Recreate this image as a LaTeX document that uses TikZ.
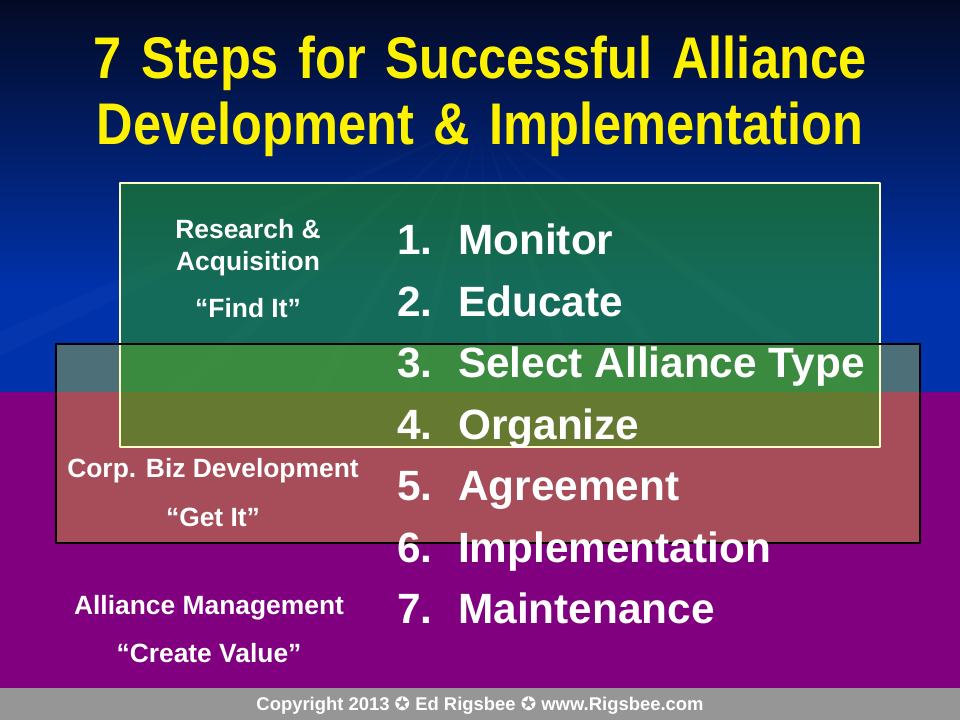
\documentclass[tikz,border=0pt]{standalone}
\usepackage{fontspec}
\setmainfont{Liberation Sans}
\newfontfamily\titlefont[FakeStretch=0.86,WordSpace=1.4]{Liberation Sans}
\newfontfamily\symfont{DejaVu Sans}
\usetikzlibrary{positioning}

\definecolor{bgtop}{RGB}{3,10,36}
\definecolor{bgblue}{RGB}{0,50,172}
\definecolor{bgpurple}{RGB}{128,0,128}
\definecolor{bggray}{RGB}{150,150,150}
\definecolor{boxyellow}{RGB}{255,255,0}
\definecolor{boxgreen}{RGB}{40,165,10}
\definecolor{greenedge}{RGB}{255,255,200}

\begin{document}
\begin{tikzpicture}[line join=bevel,
  every node/.style={inner sep=0pt},
  titleline/.style={anchor=base,text=yellow,font=\titlefont\bfseries\fontsize{59}{64}\selectfont},
  stepnum/.style={anchor=base west,text=white,font=\bfseries\fontsize{42.5}{48}\selectfont},
  steptext/.style={anchor=base west,text=white,font=\bfseries\fontsize{42.5}{48}\selectfont},
  phase/.style={anchor=base,text=white,font=\bfseries\fontsize{26.5}{30}\selectfont},
  ]
	%% background
	\useasboundingbox (0bp,0bp) rectangle (960bp,720bp);
	\fill [bggray] (0bp,0bp) rectangle (960bp,32bp);
	\fill [bgpurple] (0bp,32bp) rectangle (960bp,328bp);
	\fill [bgblue] (0bp,328bp) rectangle (960bp,430bp);
	\shade [top color=bgtop,bottom color=bgblue] (0bp,430bp) rectangle (960bp,720bp);
	\begin{scope}
	  \clip (0bp,328bp) rectangle (960bp,720bp);
	  \foreach \a in {205,222,...,340}
	    \fill [white,opacity=0.018] (480bp,600bp) -- ++(\a-1.2:900bp) -- ++(\a+92:38bp) -- cycle;
	\end{scope}
	
	%% phase boxes
	\coordinate (ysw) at (56bp,177bp);
	\coordinate (yne) at (920bp,376bp);
	\coordinate (gsw) at (120bp,273bp);
	\coordinate (gne) at (880bp,537bp);
	\fill [boxyellow,opacity=0.3] (ysw) rectangle (yne);
	\fill [boxgreen,opacity=0.5] (gsw) rectangle (gne);
	\draw [greenedge,line width=1.6bp] (gsw) rectangle (gne);
	\draw [black,line width=1.8bp] (ysw) rectangle (yne);
	
	%% title
	\node (t1) at (480bp,641bp) [titleline] {7 Steps for Successful Alliance};
	\node (t2) at (480bp,575bp) [titleline] {Development \& Implementation};
	
	%% steps
	\node (n1) at (397bp,465bp) [stepnum] {1.};
	\node (s1) at (458bp,465bp) [steptext] {Monitor};
	\node (n2) at (397bp,403.5bp) [stepnum] {2.};
	\node (s2) at (458bp,403.5bp) [steptext] {Educate};
	\node (n3) at (397bp,342bp) [stepnum] {3.};
	\node (s3) at (458bp,342bp) [steptext] {Select Alliance Type};
	\node (n4) at (397bp,280.5bp) [stepnum] {4.};
	\node (s4) at (458bp,280.5bp) [steptext] {Organize};
	\node (n5) at (397bp,219bp) [stepnum] {5.};
	\node (s5) at (458bp,219bp) [steptext] {Agreement};
	\node (n6) at (397bp,157.5bp) [stepnum] {6.};
	\node (s6) at (458bp,157.5bp) [steptext] {Implementation};
	\node (n7) at (397bp,96bp) [stepnum] {7.};
	\node (s7) at (458bp,96bp) [steptext] {Maintenance};
	
	%% phases
	\node (ra1) at (248bp,481bp) [phase] {Research \&};
	\node (ra2) at (248bp,449bp) [phase] {Acquisition};
	\node (ra3) at (248bp,402bp) [phase] {``Find It''};
	\node (cb1) at (213bp,242bp) [phase] {Corp. Biz Development};
	\node (cb2) at (213bp,193bp) [phase] {``Get It''};
	\node (am1) at (209bp,105bp) [phase] {Alliance Management};
	\node (am2) at (209bp,57bp) [phase] {``Create Value''};
	
	%% footer
	\node (copy) at (480bp,10bp) [anchor=base,text=white,font=\bfseries\fontsize{18.5}{22}\selectfont]
	  {Copyright 2013 {\symfont ✪} Ed Rigsbee {\symfont ✪} www.Rigsbee.com};
	%
\end{tikzpicture}
\end{document}
